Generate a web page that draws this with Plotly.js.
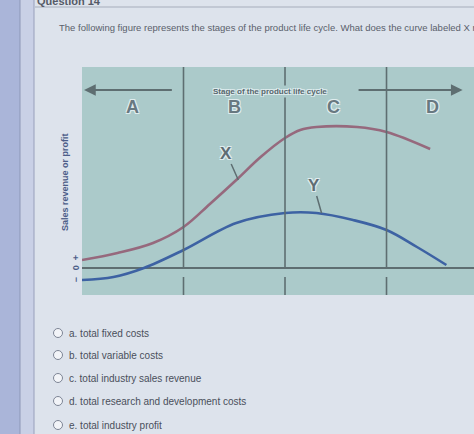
<!DOCTYPE html>
<html>
<head>
<meta charset="utf-8">
<script src="https://cdn.plot.ly/plotly-3.0.1.min.js"></script>
<style>
  html, body { margin: 0; padding: 0; background: #dde3ec; }
  #chart { width: 474px; height: 434px; }
</style>
</head>
<body>
<div id="chart"></div>
<script>
// curve X (sales revenue)
var curveX_x = [0, 0.35, 0.70, 1.0, 1.26, 1.52, 1.76, 2.0, 2.15, 2.31, 2.71, 3.0, 3.43];
var curveX_y = [0.8, 1.5, 2.5, 4.1, 6.4, 8.8, 11.1, 13.0, 13.8, 14.1, 14.1, 13.6, 11.9];
// curve Y (profit)
var curveY_x = [0, 0.31, 0.61, 1.0, 1.52, 2.0, 2.31, 2.67, 3.0, 3.3, 3.59];
var curveY_y = [-1.2, -0.9, 0, 1.8, 4.5, 5.5, 5.5, 4.8, 3.8, 2.1, 0.3];

var stageBounds = [1, 2, 3];
var stageNames = ['A', 'B', 'C', 'D'];
var stageNameX = [0.5, 1.5, 2.48, 3.45];
var yTickVals = [0.9, -0.1, -1.3];
var yTickText = ['+', '0', '−'];

var questionTitle = 'Question 14';
var questionText = 'The following figure represents the stages of the product life cycle. What does the curve labeled X represent?';
var answers = ['a. total fixed costs', 'b. total variable costs', 'c. total industry sales revenue',
               'd. total research and development costs', 'e. total industry profit'];

var W = 474, H = 434;
function px(x) { return x / W; }
function py(y) { return 1 - y / H; }

var lineGrey = '#5e6e71';
var bg = '#abcaca';
var outline = '1px 1px 0 #dfecee, -1px -1px 0 #dfecee, 1px -1px 0 #dfecee, -1px 1px 0 #dfecee';

var traces = [
  {x: curveX_x, y: curveX_y, mode: 'lines', line: {shape: 'spline', smoothing: 1, color: '#96697d', width: 2.6},
   hoverinfo: 'skip', showlegend: false},
  {x: curveY_x, y: curveY_y, mode: 'lines', line: {shape: 'spline', smoothing: 1, color: '#3d62a3', width: 2.6},
   hoverinfo: 'skip', showlegend: false}
];

var shapes = [
  // left browser strips
  {type: 'rect', xref: 'paper', yref: 'paper', x0: 0, x1: px(20), y0: 0, y1: 1, fillcolor: '#aab5d9', line: {width: 0}, layer: 'below'},
  {type: 'rect', xref: 'paper', yref: 'paper', x0: px(20), x1: px(34), y0: 0, y1: 1, fillcolor: '#c9d0e6', line: {width: 0}, layer: 'below'},
  {type: 'line', xref: 'paper', yref: 'paper', x0: px(20), x1: px(20), y0: 0, y1: 1, line: {color: '#8d96b6', width: 1}},
  {type: 'line', xref: 'paper', yref: 'paper', x0: px(34), x1: px(34), y0: 0, y1: 1, line: {color: '#98a0bb', width: 1}},
  {type: 'line', xref: 'paper', yref: 'paper', x0: px(35), x1: 1, y0: py(7), y1: py(7), line: {color: '#a6adbb', width: 1}}
];

stageBounds.forEach(function (b) {
  shapes.push({type: 'line', xref: 'x', yref: 'y', x0: b, x1: b, y0: 0, y1: 20.1, line: {color: lineGrey, width: 1.6}});
  shapes.push({type: 'line', xref: 'x', yref: 'y', x0: b, x1: b, y0: -0.9, y1: -2.7, line: {color: lineGrey, width: 1.6}});
});

answers.forEach(function (a, i) {
  var cy = [333, 355, 378, 401, 425][i];
  shapes.push({type: 'circle', xref: 'paper', yref: 'paper', x0: px(53.5), x1: px(62.5), y0: py(cy + 4.5), y1: py(cy - 4.5),
    line: {color: '#7d8595', width: 1}, fillcolor: '#f2f4f8'});
});

var annotations = [
  {xref: 'paper', yref: 'paper', x: px(35), y: py(1), xanchor: 'left', yanchor: 'middle', showarrow: false,
   text: '<b>' + questionTitle + '</b>', font: {family: 'Liberation Sans', size: 11, color: '#555a66'}},
  {xref: 'paper', yref: 'paper', x: px(57), y: py(27), xanchor: 'left', yanchor: 'middle', showarrow: false,
   text: questionText, font: {family: 'Liberation Sans', size: 9.5, color: '#5a5f6b'}},
  {xref: 'paper', yref: 'paper', x: px(58), y: py(182), showarrow: false, textangle: -90,
   text: '<b>Sales revenue or profit</b>', font: {family: 'Liberation Sans', size: 9, color: '#4c5d88'}},
  // direction arrows
  {x: 0.02, y: 17.8, ax: 0.9, ay: 17.8, axref: 'x', ayref: 'y', showarrow: true, arrowhead: 2, arrowsize: 1.3,
   arrowwidth: 1.8, arrowcolor: lineGrey, text: ''},
  {x: 3.75, y: 17.8, ax: 2.71, ay: 17.8, axref: 'x', ayref: 'y', showarrow: true, arrowhead: 2, arrowsize: 1.3,
   arrowwidth: 1.8, arrowcolor: lineGrey, text: ''},
  {x: 1.85, y: 17.7, showarrow: false, text: '<b>Stage of the product life cycle</b>', bgcolor: bg,
   font: {family: 'Liberation Sans', size: 8, color: '#56666d', shadow: outline}},
  // curve labels
  {x: 1.54, y: 8.8, ax: -12, ay: -27, showarrow: true, arrowhead: 0, arrowwidth: 1.5, arrowcolor: lineGrey, standoff: 0,
   text: '<b>X</b>', font: {family: 'Liberation Sans', size: 17, color: '#5f6d74', shadow: outline}},
  {x: 2.36, y: 5.5, ax: -8, ay: -28, showarrow: true, arrowhead: 0, arrowwidth: 1.5, arrowcolor: lineGrey, standoff: 0,
   text: '<b>Y</b>', font: {family: 'Liberation Sans', size: 17, color: '#5f6d74', shadow: outline}}
];

stageNames.forEach(function (s, i) {
  annotations.push({x: stageNameX[i], y: 16.1, showarrow: false, text: '<b>' + s + '</b>',
    font: {family: 'Liberation Sans', size: 18, color: '#687880', shadow: outline}});
});

answers.forEach(function (a, i) {
  var cy = [333, 355, 378, 401, 425][i];
  annotations.push({xref: 'paper', yref: 'paper', x: px(67), y: py(cy), xanchor: 'left', yanchor: 'middle',
    showarrow: false, text: a, font: {family: 'Liberation Sans', size: 10, color: '#4a4f5b'}});
});

var layout = {
  width: W, height: H,
  margin: {l: 0, r: 0, t: 0, b: 0},
  paper_bgcolor: '#dde3ec',
  plot_bgcolor: bg,
  showlegend: false,
  xaxis: {domain: [px(82), 1], range: [0, 3.862], showgrid: false, zeroline: false, showticklabels: false, showline: false, fixedrange: true},
  yaxis: {domain: [py(295), py(67)], range: [-2.7, 20.1], showgrid: false, zeroline: true, zerolinecolor: lineGrey, zerolinewidth: 1.8,
          tickvals: yTickVals, ticktext: yTickText, tickangle: -90, ticks: '', showline: false, fixedrange: true,
          tickfont: {family: 'Liberation Sans', size: 9, color: '#4c5d88', weight: 'bold'}},
  shapes: shapes,
  annotations: annotations
};

Plotly.newPlot('chart', traces, layout, {displayModeBar: false, staticPlot: true});
</script>
</body>
</html>
